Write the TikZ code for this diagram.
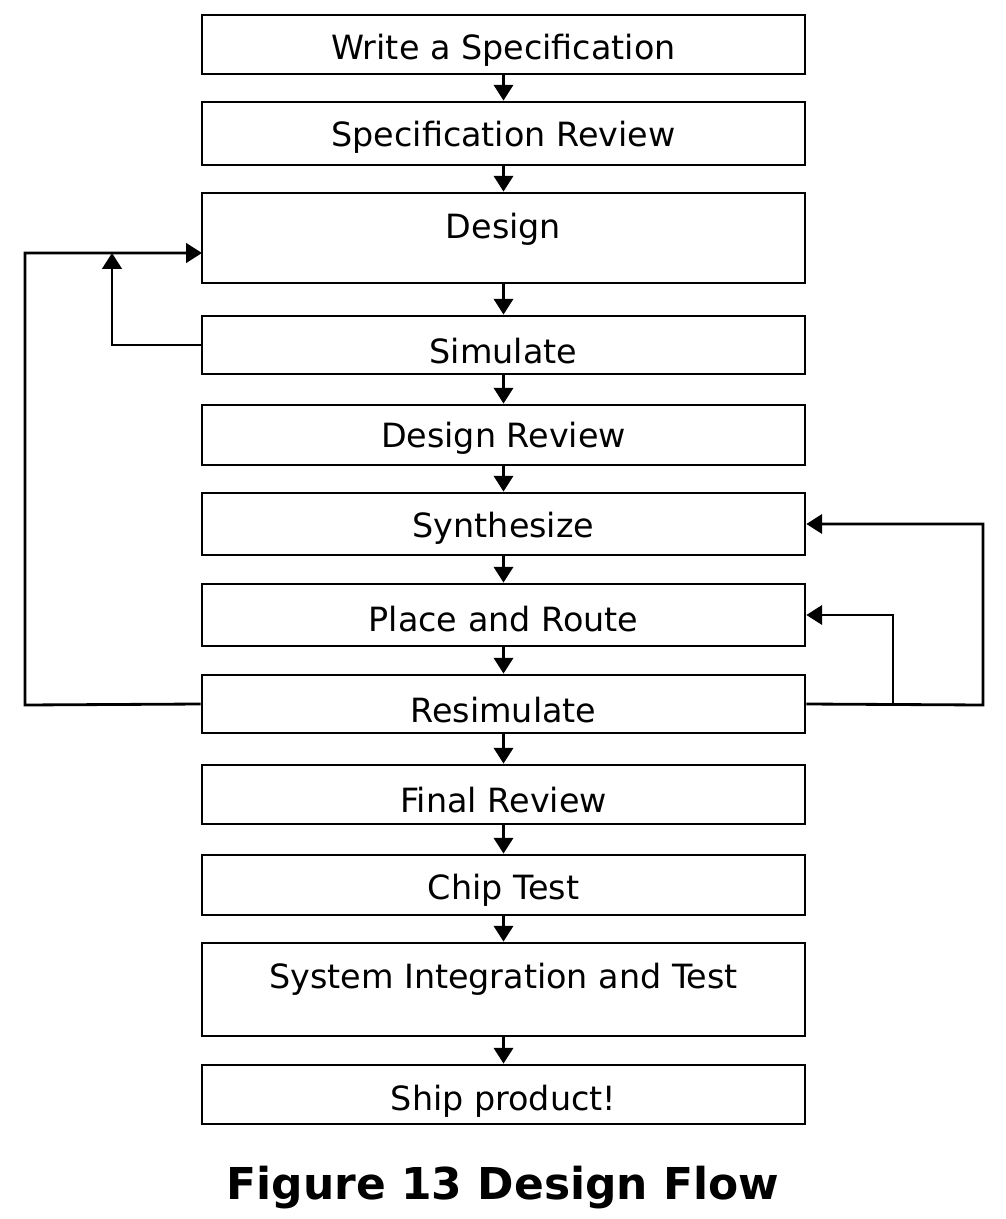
\documentclass[tikz,border=0pt]{standalone}
\usepackage{fontspec}
\setmainfont{DejaVu Sans}
\usetikzlibrary{arrows.meta}
\begin{document}
\begin{tikzpicture}[x=0.02cm, y=-0.02cm, line width=1.6pt,
  box/.style = {draw, minimum width=12.06cm, inner sep=0pt},
  lbl/.style = {font=\fontsize{19}{22}\selectfont, inner sep=0pt},
  flow/.style = {-{Triangle[length=9pt,width=11pt]}}]
  \useasboundingbox (0,0) rectangle (1006,1219);
  % boxes: top, bottom, text y, text
  \foreach \n/\t/\b/\ty/\txt in {
      1/15/74/50/Write a Specification,
      2/102/165/137/Specification Review,
      3/193/283/229/Design,
      4/316/374/351/Simulate,
      5/405/465/438/Design Review,
      6/493/555/528/Synthesize,
      7/584/646/619/Place and Route,
      8/675/733/710/Resimulate,
      9/765/824/800/Final Review,
      10/855/915/890/Chip Test,
      11/943/1036/979/System Integration and Test,
      12/1065/1124/1101/Ship product!} {
    \node[box, minimum height={(\b-\t)*0.02cm}] (b\n) at (503.5,{(\t+\b)/2}) {};
    \node[lbl] (t\n) at (503.5,\ty) {\txt};
  }
  % straight flow
  \foreach \i [evaluate=\i as \j using int(\i+1)] in {1,...,11}
    \draw[flow] (b\i.south) -- (b\j.north);
  % feedback loops
  \coordinate (up) at (112,253);
  \coordinate (dl) at (202,253);
  \draw[flow] (b4.west) -| (up);
  \draw[flow] (b8.west) -- (25,705) |- (dl);
  \draw[flow] (b8.east) -- (983,705) |- (b6.east);
  \draw[flow] (893,705) |- (b7.east);
  \node[font=\bfseries\fontsize{25}{30}\selectfont] (cap) at (503,1188) {Figure 13 Design Flow};
\end{tikzpicture}
\end{document}
